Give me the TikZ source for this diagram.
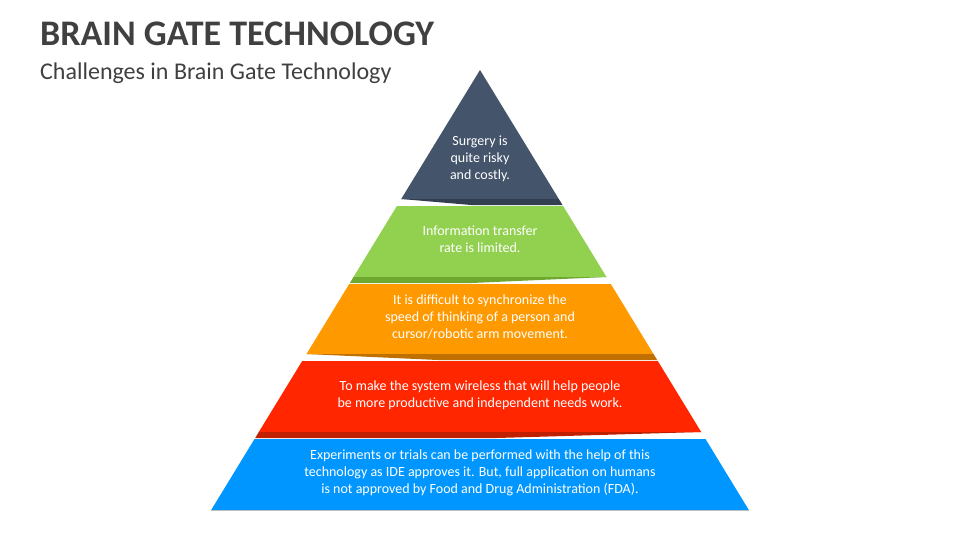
\documentclass[tikz,border=0pt]{standalone}
\usepackage{fontspec}
\setmainfont{Carlito}
\usepackage{xcolor}
\usetikzlibrary{calc}

\definecolor{titlegray}{HTML}{404040}
\definecolor{navyface}{HTML}{44546A}
\definecolor{navyband}{HTML}{333F50}
\definecolor{greenface}{HTML}{92D050}
\definecolor{greenband}{HTML}{6EA82F}
\definecolor{orangeface}{HTML}{FF9900}
\definecolor{orangeband}{HTML}{BF7000}
\definecolor{redface}{HTML}{FF2600}
\definecolor{redband}{HTML}{C02000}
\definecolor{blueface}{HTML}{0096FF}

\begin{document}
\begin{tikzpicture}[
  x=1pt, y=-1pt,
  every node/.style={inner sep=0pt},
  tiertext/.style={text=white, align=center,
                   font=\fontsize{14}{17}\selectfont},
  title/.style={text=titlegray, anchor=base west,
                font=\fontsize{36}{40}\selectfont\bfseries},
  subtitle/.style={text=titlegray, anchor=base west,
                   font=\fontsize{24}{28}\selectfont}
]
\useasboundingbox[fill=white] (0,0) rectangle (960,540);

\node[title] (head) at (40,46) {BRAIN GATE TECHNOLOGY};
\node[subtitle] (subhead) at (40,80) {Challenges in Brain Gate Technology};

\fill[navyface] (480,70) -- (558.8,199) -- (401.2,199) -- cycle;
\fill[navyband] (401.2,199) -- (558.8,199) -- (562.5,205) -- (471,205) -- cycle;

\fill[greenface] (396.9,206) -- (563.1,206) -- (606.5,277) -- (353.5,277) -- cycle;
\fill[greenband] (353.5,277) -- (606.5,277) -- (472,283) -- (349.9,283) -- cycle;

\fill[orangeface] (349.2,284) -- (610.8,284) -- (653.5,354) -- (306.5,354) -- cycle;
\fill[orangeband] (306.5,354) -- (653.5,354) -- (657.2,360) -- (438,360) -- cycle;

\fill[redface] (302.2,361) -- (657.8,361) -- (701.2,432) -- (258.8,432) -- cycle;
\fill[redband] (258.8,432) -- (701.2,432) -- (497,438) -- (255.2,438) -- cycle;

\fill[blueface] (254.5,439) -- (705.5,439) -- (748.8,510) -- (211.2,510) -- cycle;
\draw[black!25, line width=1pt] (211.2,510.5) -- (748.8,510.5);

\node[tiertext] (surgery) at (480,159) {Surgery is\\quite risky\\and costly.};
\node[tiertext] (transfer) at (480,239.5) {Information transfer\\rate is limited.};
\node[tiertext] (sync) at (480,317) {It is difficult to synchronize the\\speed of thinking of a person and\\cursor/robotic arm movement.};
\node[tiertext] (wireless) at (480,395.5) {To make the system wireless that will help people\\be more productive and independent needs work.};
\node[tiertext] (trials) at (480,473) {Experiments or trials can be performed with the help of this\\technology as IDE approves it. But, full application on humans\\is not approved by Food and Drug Administration (FDA).};
\end{tikzpicture}
\end{document}
